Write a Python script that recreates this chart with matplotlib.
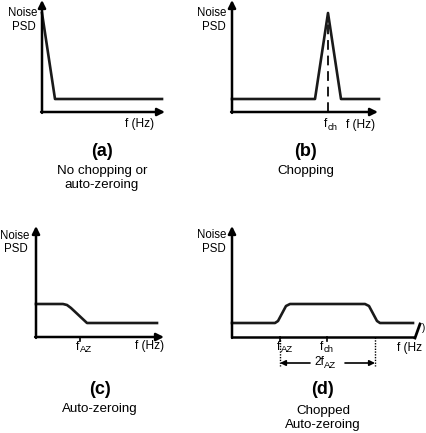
import matplotlib
matplotlib.use("Agg")
import matplotlib.pyplot as plt

# ---------------- data (schematic noise PSD shapes, arbitrary units) -------------
a_freq = [0, 13, 120]
a_psd = [99, 13, 13]

b_freq = [0, 83, 96, 109, 147]
b_psd = [13, 13, 99, 13, 13]
b_fch = 96

c_freq = [0, 27, 31, 35, 51, 121]
c_psd = [33, 33, 32, 29, 14, 14]
c_faz = 44

d_freq = [0, 43, 46, 54, 58, 133, 137, 145, 148, 181]
d_psd = [14, 14, 16, 31, 33, 33, 31, 16, 14, 14]
d_faz = 48
d_fch = 95
d_fhi = 143

panel_tags = ["(a)", "(b)", "(c)", "(d)"]
panel_captions = [["No chopping or", "auto-zeroing"], ["Chopping"],
                  ["Auto-zeroing"], ["Chopped", "Auto-zeroing"]]

W, H = 427, 433
plt.rcParams["font.family"] = ["Liberation Sans", "DejaVu Sans"]

fig = plt.figure(figsize=(W / 100, H / 100), dpi=100)
fig.patch.set_facecolor("white")

ov = fig.add_axes([0, 0, 1, 1])
ov.set_xlim(0, W)
ov.set_ylim(H, 0)
ov.axis("off")


def panel(x0, y0, w, h, arrow_x=True):
    ax = fig.add_axes([x0 / W, (H - y0) / H, w / W, h / H])
    ax.set_xlim(0, w)
    ax.set_ylim(0, h)
    ax.axis("off")
    ax.patch.set_alpha(0)
    ap = dict(arrowstyle="-|>", lw=1.8, color="black", mutation_scale=11,
              shrinkA=0, shrinkB=0)
    ax.annotate("", xy=(0, h), xytext=(0, -0.9), arrowprops=ap,
                annotation_clip=False)
    if arrow_x:
        ax.annotate("", xy=(w, 0), xytext=(-0.9, 0), arrowprops=ap,
                    annotation_clip=False)
    else:
        ax.plot([-0.9, w], [0, 0], color="black", lw=1.8, clip_on=False,
                solid_capstyle="butt")
    return ax


curve_kw = dict(color="#1a1a1a", lw=1.9, clip_on=False, solid_joinstyle="round")
ls = 8.3
fs = 8.6
ss = 6.8


def subtext(x, y, base, sub):
    ov.text(x, y, base, fontsize=fs, ha="left", va="center")
    bw = {"f": 3.8, "2f": 10.0}[base]
    ov.text(x + bw, y + 3, sub, fontsize=ss, ha="left", va="center")


# (a)
axa = panel(42, 112, 123, 112)
axa.plot(a_freq, a_psd, **curve_kw)

# (b)
axb = panel(232, 112, 146, 112)
axb.plot(b_freq, b_psd, **curve_kw)
axb.plot([b_fch, b_fch], [0, max(b_psd)], color="#1a1a1a", lw=1.4,
         dashes=(5, 3), clip_on=False)

# (c)
axc = panel(36, 337, 128, 111)
axc.plot(c_freq, c_psd, **curve_kw)
axc.plot([c_faz, c_faz], [0, -3.5], color="black", lw=1.2, clip_on=False)

# (d)
axd = panel(232, 337, 183, 111, arrow_x=False)
axd.plot(d_freq, d_psd, **curve_kw)
for f in (d_faz, d_fch):
    axd.plot([f, f], [0, -3.5], color="black", lw=1.2, clip_on=False)
for f in (d_faz, d_fhi):
    axd.plot([f, f], [0, -29], color="black", lw=1.0, ls=(0, (1, 1)),
             clip_on=False)
hp = dict(arrowstyle="-|>", lw=1.2, color="black", mutation_scale=8,
          shrinkA=0, shrinkB=0)
axd.annotate("", xy=(d_faz, -26), xytext=(78, -26), arrowprops=hp,
             annotation_clip=False)
axd.annotate("", xy=(d_fhi, -26), xytext=(113, -26), arrowprops=hp,
             annotation_clip=False)
subtext(314, 362, "2f", "AZ")
# axis break mark
axd.plot([183, 188], [-1, 13], color="black", lw=2.0, clip_on=False)
ov.text(423.5, 328, ")", fontsize=7, ha="center", va="center")

# axis labels
for (xn, yn, xp, yp) in [(37.5, 13, 35.5, 27), (226.5, 13, 225.5, 27),
                         (29.5, 236, 27.5, 249), (226.5, 235, 225.5, 249)]:
    ov.text(xn, yn, "Noise", fontsize=ls, ha="right", va="center")
    ov.text(xp, yp, "PSD", fontsize=ls, ha="right", va="center")

for (x, y, ha) in [(140, 124, "center"), (361, 125, "center"),
                   (150, 346, "center"), (397, 348, "left")]:
    ov.text(x, y, "f (Hz)" if ha == "center" else "f (Hz", fontsize=fs,
            ha=ha, va="center")

subtext(324, 124, "f", "ch")
subtext(76, 347, "f", "AZ")
subtext(277, 347, "f", "AZ")
subtext(320, 347, "f", "ch")

# captions
tag_pos = [(102, 152), (306, 152), (100, 390), (323, 389)]
cap_pos = [[(102, 171), (102, 185)], [(306, 171)], [(100, 409)],
           [(323, 411), (323, 425)]]
for tag, (tx, ty), caps, cps in zip(panel_tags, tag_pos, panel_captions, cap_pos):
    ov.text(tx, ty, tag, fontsize=13, fontweight="bold", ha="center", va="center")
    for c, (cx, cy) in zip(caps, cps):
        ov.text(cx, cy, c, fontsize=9.6, ha="center", va="center")

fig.savefig("out.png", dpi=100, facecolor="white")
